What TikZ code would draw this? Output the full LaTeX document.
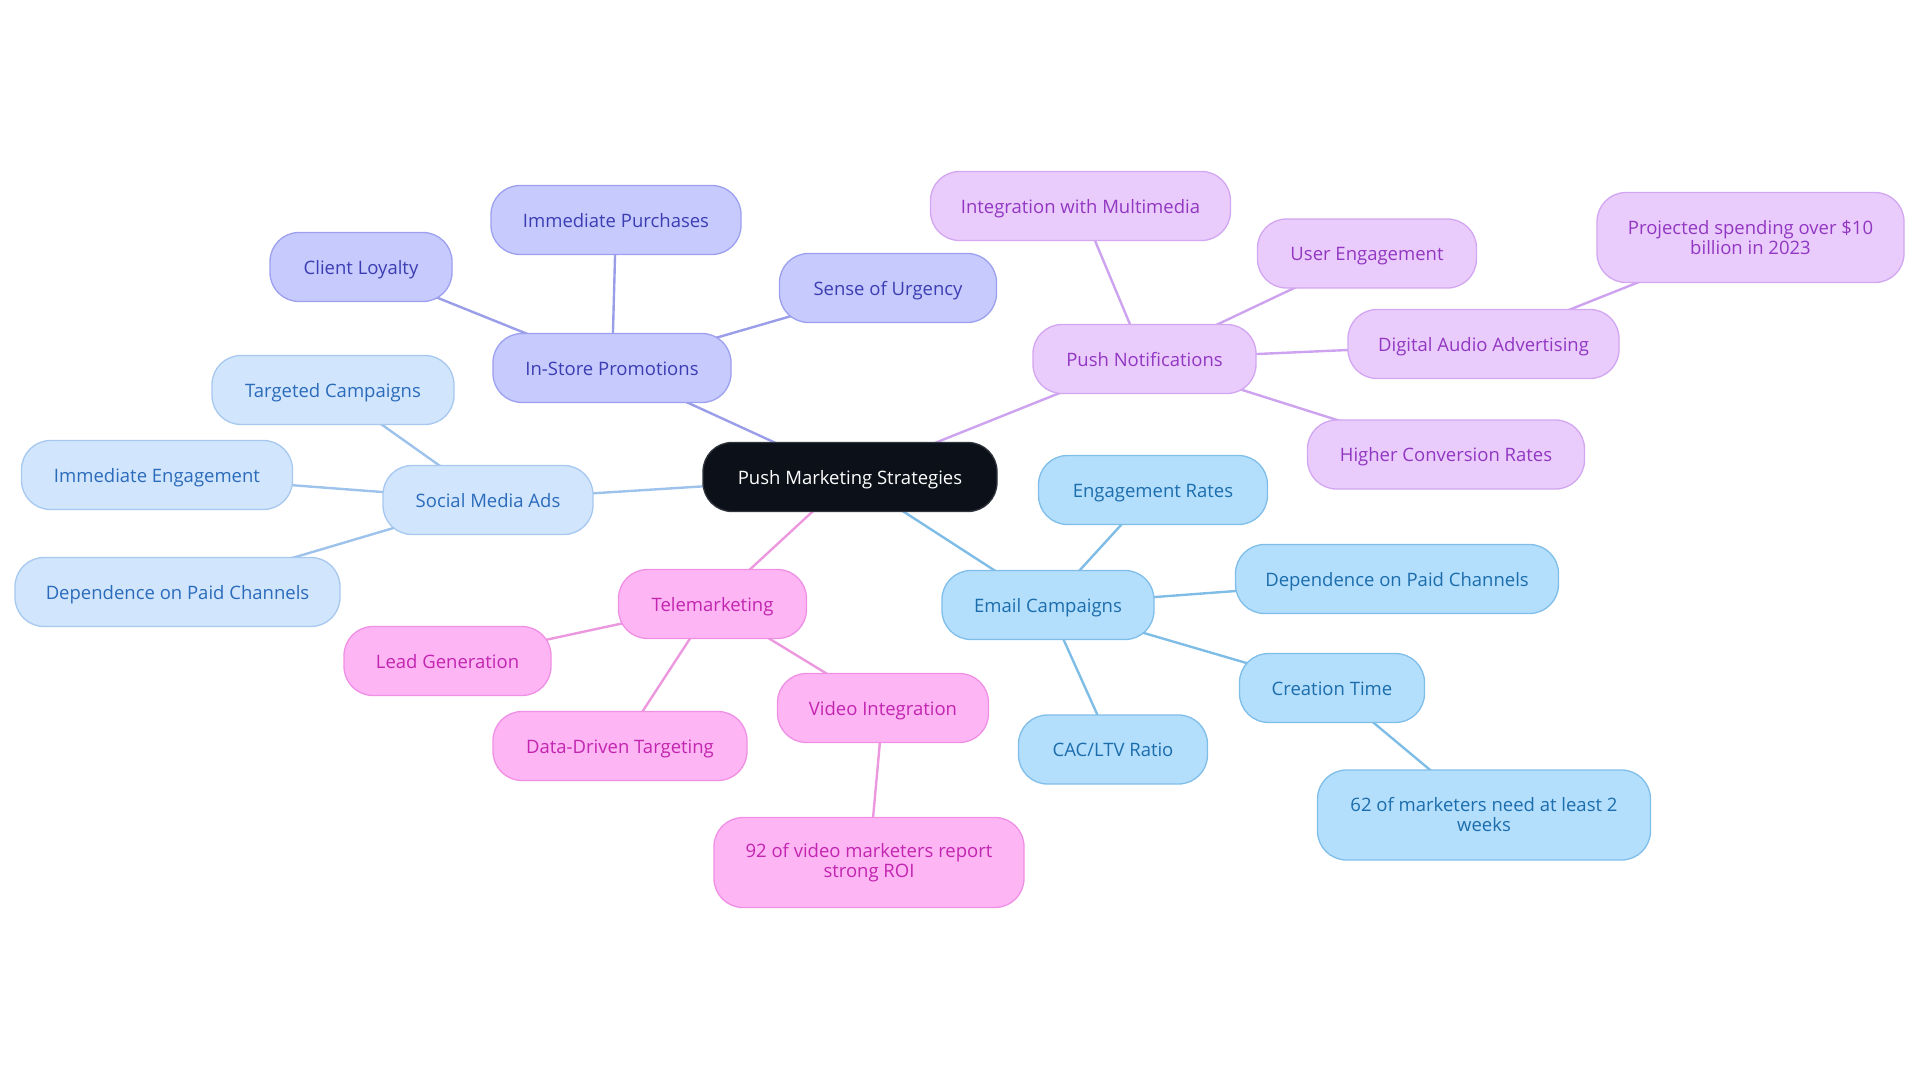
\documentclass[tikz,border=0pt]{standalone}
\usepackage{fontspec}
\setmainfont{Open Sans}
\usetikzlibrary{backgrounds}
\definecolor{cfill}{HTML}{0C1018}
\definecolor{cdraw}{HTML}{30343C}
\definecolor{ifill}{HTML}{C7CAFC}
\definecolor{idraw}{HTML}{9DA0EE}
\definecolor{itext}{HTML}{3B3DB3}
\definecolor{iline}{HTML}{9A9DE8}
\definecolor{pfill}{HTML}{EACCFC}
\definecolor{pdraw}{HTML}{D2A6F0}
\definecolor{ptext}{HTML}{9137C2}
\definecolor{pline}{HTML}{CDA2EE}
\definecolor{efill}{HTML}{B3DEFC}
\definecolor{edraw}{HTML}{80BEEA}
\definecolor{etext}{HTML}{1C6DAC}
\definecolor{eline}{HTML}{7FBDE6}
\definecolor{tfill}{HTML}{FDB5F4}
\definecolor{tdraw}{HTML}{F090E5}
\definecolor{ttext}{HTML}{C225AF}
\definecolor{tline}{HTML}{EC98DE}
\definecolor{sfill}{HTML}{D1E5FC}
\definecolor{sdraw}{HTML}{A7C8EF}
\definecolor{stext}{HTML}{2B6BBC}
\definecolor{sline}{HTML}{9DC2EB}
\tikzset{
  box/.style={rounded corners=29pt, minimum height=69pt, inner sep=0pt, line width=1.3pt,
    font=\fontsize{18.5}{20}\selectfont, align=center, text height=14.5pt, text depth=0pt},
  bw/.style={minimum width=#1pt},
  tall/.style={minimum height=90pt, text height={}, text depth={}},
  central/.style={box, fill=cfill, draw=cdraw, text=white},
  ibox/.style={box, fill=ifill, draw=idraw, text=itext},
  pbox/.style={box, fill=pfill, draw=pdraw, text=ptext},
  ebox/.style={box, fill=efill, draw=edraw, text=etext},
  tbox/.style={box, fill=tfill, draw=tdraw, text=ttext},
  sbox/.style={box, fill=sfill, draw=sdraw, text=stext},
  conn/.style={line width=2.4pt},
}
\begin{document}
\begin{tikzpicture}[x=1pt,y=-1pt]
\useasboundingbox (0,0) rectangle (1920,1083);
% central
\node[central, bw=294] (c) at (850,477) {Push Marketing Strategies};
% in-store
\node[ibox, bw=238] (is) at (612,368) {In-Store Promotions};
\node[ibox, bw=250] (ip) at (616,220) {Immediate Purchases};
\node[ibox, bw=182] (cl) at (361,267) {Client Loyalty};
\node[ibox, bw=217] (su) at (888,288) {Sense of Urgency};
% social
\node[sbox, bw=210] (sm) at (488,500) {Social Media Ads};
\node[sbox, bw=242] (tc) at (333,390) {Targeted Campaigns};
\node[sbox, bw=271] (ie) at (157,475) {Immediate Engagement};
\node[sbox, bw=325] (dl) at (177.5,592) {Dependence on Paid Channels};
% telemarketing
\node[tbox, bw=188] (tm) at (712.5,604) {Telemarketing};
\node[tbox, bw=207] (lg) at (447.5,661) {Lead Generation};
\node[tbox, bw=254] (dd) at (620,746) {Data-Driven Targeting};
\node[tbox, bw=211] (vi) at (883,708) {Video Integration};
\node[tbox, bw=310, tall] (vr) at (869,862.5) {92 of video marketers report\\strong ROI};
% email
\node[ebox, bw=212] (ec) at (1048,605) {Email Campaigns};
\node[ebox, bw=229] (er) at (1153,490) {Engagement Rates};
\node[ebox, bw=323] (dr) at (1397,579) {Dependence on Paid Channels};
\node[ebox, bw=185] (ct) at (1332,688) {Creation Time};
\node[ebox, bw=189] (cac) at (1113,749.5) {CAC/LTV Ratio};
\node[ebox, bw=333, tall] (mk) at (1484,815) {62 of marketers need at least 2\\weeks};
% push notifications
\node[pbox, bw=223] (pn) at (1144.5,359) {Push Notifications};
\node[pbox, bw=300] (im) at (1080.5,206) {Integration with Multimedia};
\node[pbox, bw=219] (ue) at (1367,253.5) {User Engagement};
\node[pbox, bw=271] (da) at (1483.5,344) {Digital Audio Advertising};
\node[pbox, bw=307, tall] (ps) at (1750.5,237.5) {Projected spending over \$10\\billion in 2023};
\node[pbox, bw=277] (hc) at (1446,454.5) {Higher Conversion Rates};
\begin{scope}[on background layer]
\draw[conn, iline] (c.center) -- (is.center);
\draw[conn, iline] (is.center) -- (ip.center);
\draw[conn, iline] (is.center) -- (cl.center);
\draw[conn, iline] (is.center) -- (su.center);
\draw[conn, sline] (c.center) -- (sm.center);
\draw[conn, sline] (sm.center) -- (tc.center);
\draw[conn, sline] (sm.center) -- (ie.center);
\draw[conn, sline] (sm.center) -- (dl.center);
\draw[conn, tline] (c.center) -- (tm.center);
\draw[conn, tline] (tm.center) -- (lg.center);
\draw[conn, tline] (tm.center) -- (dd.center);
\draw[conn, tline] (tm.center) -- (vi.center);
\draw[conn, tline] (vi.center) -- (vr.center);
\draw[conn, eline] (c.center) -- (ec.center);
\draw[conn, eline] (ec.center) -- (er.center);
\draw[conn, eline] (ec.center) -- (dr.center);
\draw[conn, eline] (ec.center) -- (ct.center);
\draw[conn, eline] (ec.center) -- (cac.center);
\draw[conn, eline] (ct.center) -- (mk.center);
\draw[conn, pline] (c.center) -- (pn.center);
\draw[conn, pline] (pn.center) -- (im.center);
\draw[conn, pline] (pn.center) -- (ue.center);
\draw[conn, pline] (pn.center) -- (da.center);
\draw[conn, pline] (pn.center) -- (hc.center);
\draw[conn, pline] (da.center) -- (ps.center);
\end{scope}
\end{tikzpicture}
\end{document}
